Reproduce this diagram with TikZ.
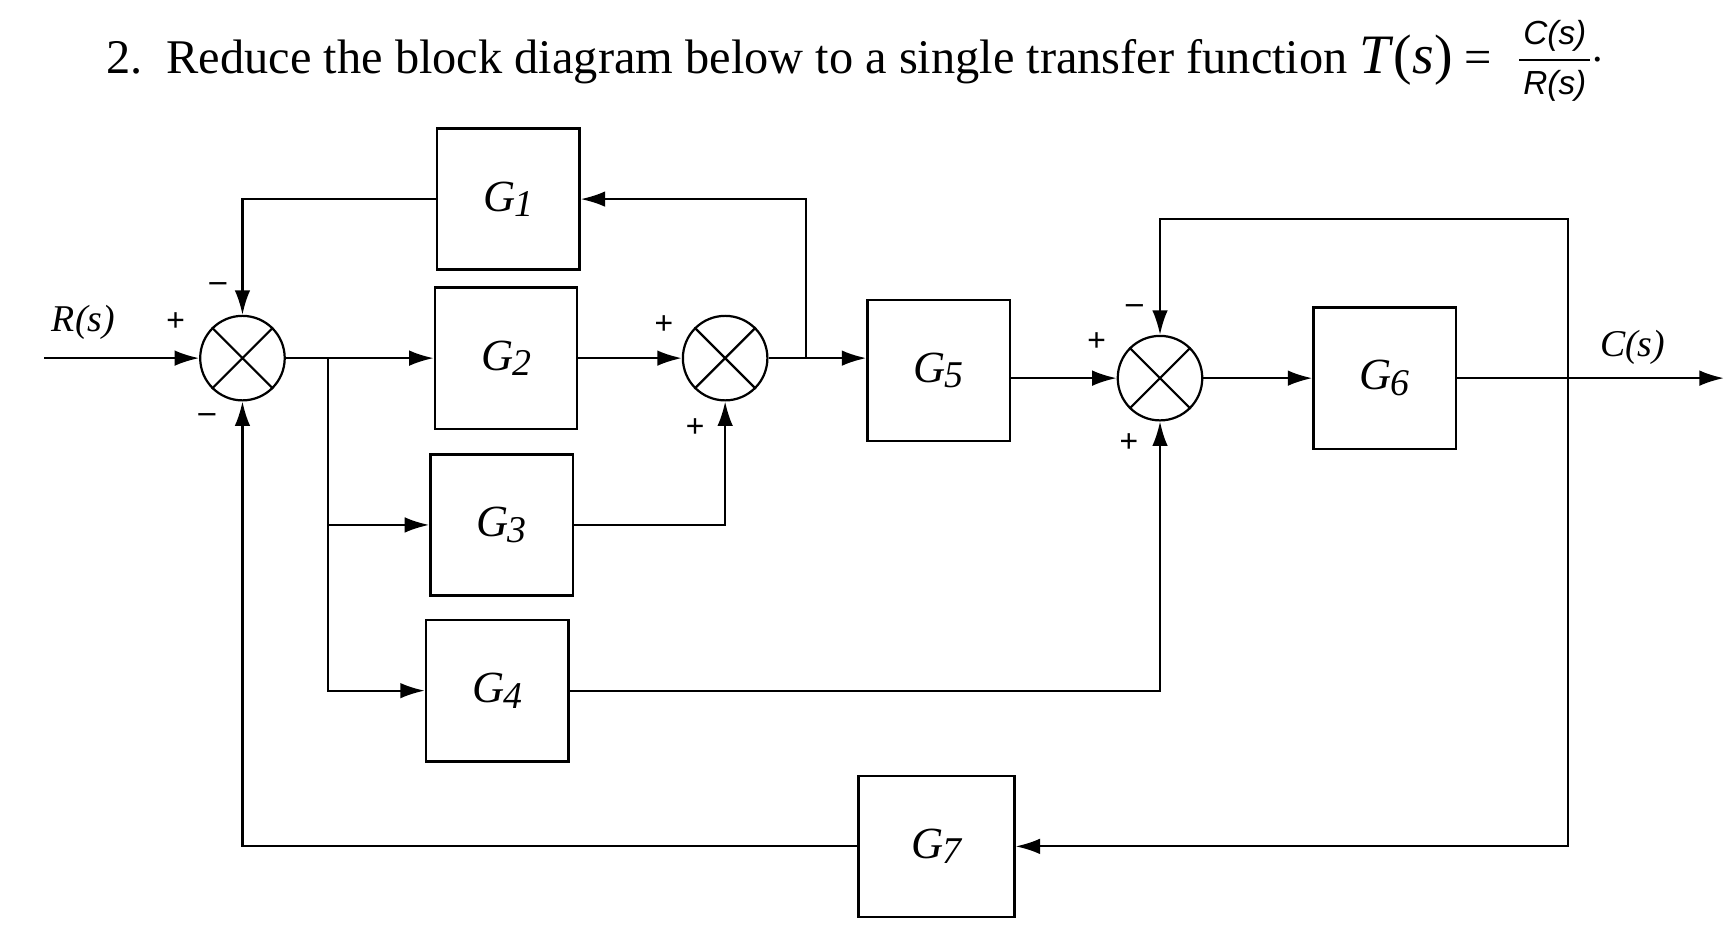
\documentclass[tikz,border=0pt]{standalone}
\usepackage{fontspec}
\setmainfont{Liberation Serif}
\newfontfamily\sansf{Liberation Sans}
\usetikzlibrary{arrows.meta}
\newcommand{\gl}[1]{G\kern-1pt\raisebox{-5pt}{\fontsize{34}{34}\selectfont #1}}
\begin{document}
\begin{tikzpicture}[x=1pt,y=-1pt,
 blk/.style={draw,line width=2.2pt,minimum width=128pt,minimum height=127pt,inner sep=0pt,font=\fontsize{40}{40}\selectfont\itshape},
 sum/.style={draw,circle,line width=2pt,minimum size=76pt,inner sep=0pt},
 ln/.style={line width=2pt},
 ar/.style={ln,-{Latex[length=22pt,width=14pt]}},
 sg/.style={font=\fontsize{30}{30}\selectfont\bfseries}]
\useasboundingbox (0,0) rectangle (1560,832);
\node[anchor=base west,font=\fontsize{43.5}{44}\selectfont] (title) at (92,66) {2.\enspace Reduce the block diagram below to a single transfer function {\fontsize{50}{50}\selectfont\textit{T}(\textit{s})} =};
\node[font=\fontsize{30}{30}\selectfont\sansf\itshape] (num) at (1398,32) {C(s)};
\node[font=\fontsize{30}{30}\selectfont\sansf\itshape] (den) at (1398,77) {R(s)};
\draw[line width=2pt] (1366,54)--(1430,54);
\node[font=\fontsize{38}{38}\selectfont] (dot) at (1437,54) {.};
\node[blk] (g1) at (457,179) {\gl1};
\node[blk] (g2) at (455,322) {\gl2};
\node[blk] (g3) at (451,472) {\gl3};
\node[blk] (g4) at (447,621) {\gl4};
\node[blk] (g5) at (844,333) {\gl5};
\node[blk] (g6) at (1245,340) {\gl6};
\node[blk,minimum width=140pt] (g7) at (842,761) {\gl7};
\foreach \n/\x/\y in {s1/218/322,s2/652/322,s3/1043/340}{
 \node[sum] (\n) at (\x,\y) {};
 \draw[ln] (\n.45)--(\n.225) (\n.135)--(\n.315);}
\coordinate (rin) at (40,322);
\coordinate (cout) at (1550,340);
\node[font=\fontsize{34}{34}\selectfont\itshape] (rl) at (75,290) {R(s)};
\node[font=\fontsize{34}{34}\selectfont\itshape] (cl) at (1468,312) {C(s)};
\draw[ar] (rin)--(s1.west);
\draw[ar] (g1.west)-|(s1.north);
\draw[ar] (g7.west)-|(s1.south);
\draw[ar] (s1.east)--(g2.west);
\coordinate (b1) at (295,322);
\draw[ar] (b1)|-(g3.west);
\draw[ar] (b1)|-(g4.west);
\draw[ar] (g2.east)--(s2.west);
\draw[ar] (g3.east)-|(s2.south);
\draw[ar] (s2.east)--(s2.east-|g5.west);
\coordinate (b2) at (725,322);
\draw[ar] (b2)|-(g1.east);
\draw[ar] (g5.east|-s3.west)--(s3.west);
\draw[ar] (g4.east)-|(s3.south);
\draw[ar] (s3.east)--(g6.west);
\draw[ar] (g6.east)--(cout);
\coordinate (b3) at (1410,340);
\coordinate (t3) at (1410,197);
\draw[ar] (b3)--(t3)-|(s3.north);
\draw[ar] (b3)|-(g7.east);
\node[sg] (p1) at (158,290) {+};
\node[sg] (m1) at (196,258) {--};
\node[sg] (m2) at (186,376) {--};
\node[sg] (p2) at (597,292) {+};
\node[sg] (p3) at (625,385) {+};
\node[sg] (p4) at (986,308) {+};
\node[sg] (m3) at (1020,278) {--};
\node[sg] (p5) at (1015,398) {+};
\end{tikzpicture}
\end{document}
